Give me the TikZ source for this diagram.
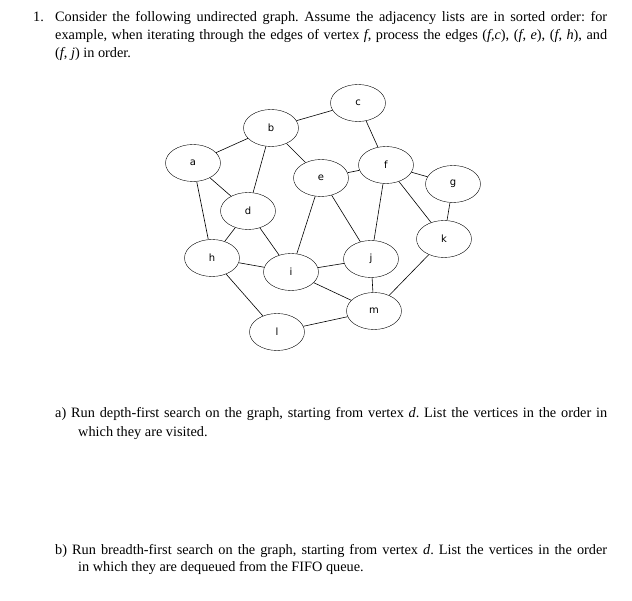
\documentclass[tikz,border=0pt]{standalone}
\usepackage{fontspec}
\setmainfont{Liberation Serif}
\newfontfamily\gfont{DejaVu Sans}
\usetikzlibrary{shapes.geometric}
\frenchspacing
\begin{document}
\begin{tikzpicture}[x=1pt,y=-1pt,
  v/.style={draw,ellipse,minimum width=55pt,minimum height=37pt,inner sep=0pt,font=\gfont\fontsize{10}{11}\selectfont},
  edg/.style={draw,line width=0.6pt},
  tl/.style={anchor=base west,inner sep=0pt,font=\fontsize{14.3}{16}\selectfont}]
\useasboundingbox (0,0) rectangle (632,601);
\node[tl] (n1) at (33,22) {1.};
\node[tl] (l1) at (55,22) {\makebox[552pt][s]{Consider the following undirected graph. Assume the adjacency lists are in sorted order: for}};
\node[tl] (l2) at (55,40) {\makebox[552pt][s]{example, when iterating through the edges of vertex \textit{f}, process the edges (\textit{f},\textit{c}), (\textit{f}, \textit{e}), (\textit{f}, \textit{h}), and}};
\node[tl] (l3) at (55,58) {(\textit{f}, \textit{j}) in order.};
\node[tl] (a1) at (55,418) {\makebox[552pt][s]{a) Run depth-first search on the graph, starting from vertex \textit{d}. List the vertices in the order in}};
\node[tl] (a2) at (78,436) {which they are visited.};
\node[tl] (b1) at (55,554) {\makebox[552pt][s]{b) Run breadth-first search on the graph, starting from vertex \textit{d}. List the vertices in the order}};
\node[tl] (b2) at (78,571) {in which they are dequeued from the FIFO queue.};
\node[v] (a) at (193,163) {a};
\node[v] (b) at (271,128) {b};
\node[v] (c) at (358,103) {c};
\node[v] (d) at (248,211) {d};
\node[v] (e) at (321,178) {e};
\node[v] (f) at (386,165) {f};
\node[v] (g) at (453,184) {g};
\node[v] (h) at (212,258) {h};
\node[v] (i) at (291,272) {i};
\node[v] (j) at (371,259) {j};
\node[v] (k) at (444,239) {k};
\node[v] (l) at (277,332) {l};
\node[v] (m) at (374,311) {m};
\foreach \p/\q in {a/b,a/d,a/h,b/c,b/d,b/e,c/f,e/f,f/g,f/k,f/j,g/k,d/h,d/i,e/i,e/j,h/i,i/j,h/l,i/m,j/m,k/m,l/m}
  \draw[edg] (\p) -- (\q);
\end{tikzpicture}
\end{document}
